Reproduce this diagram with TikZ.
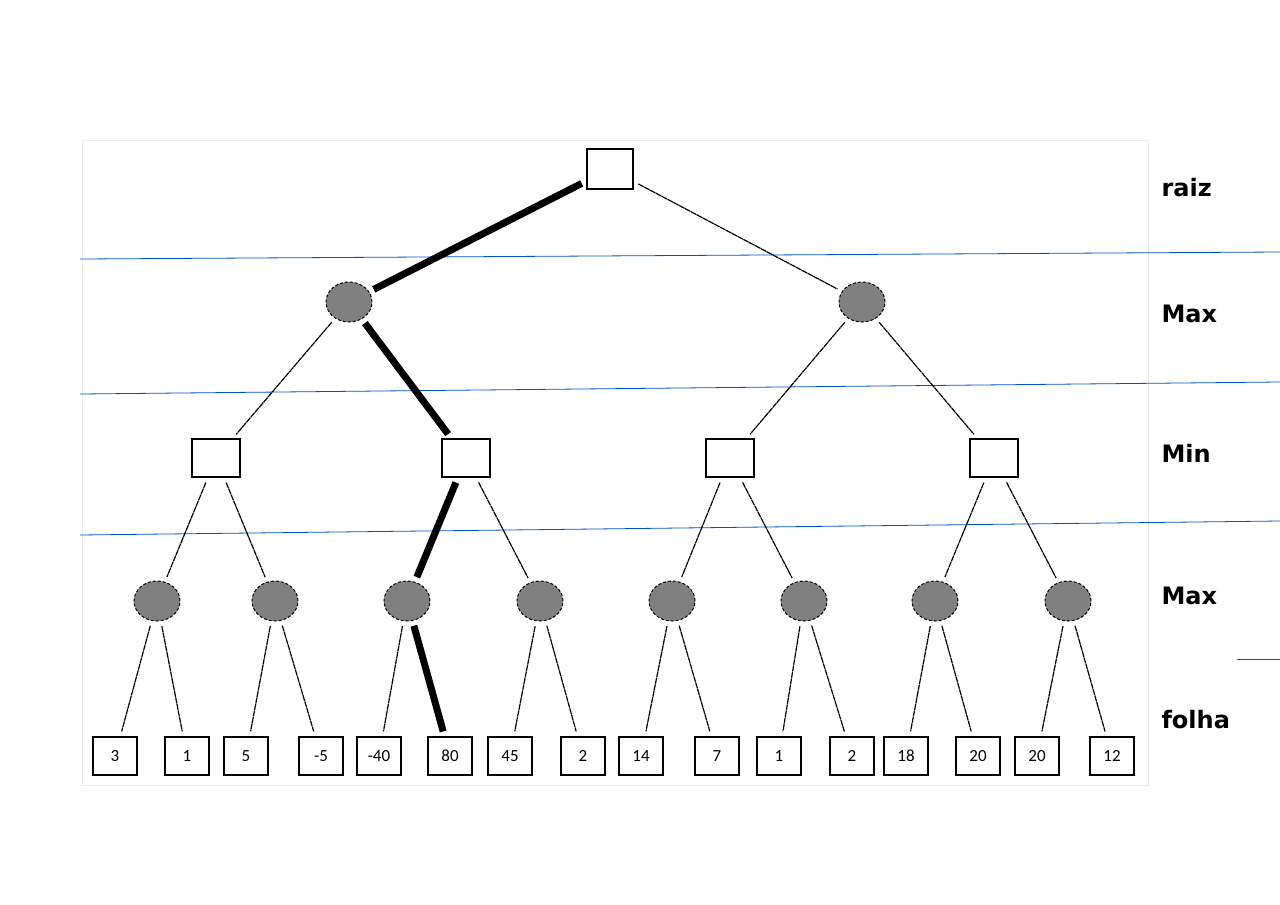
\documentclass[tikz,border=0pt]{standalone}
\usepackage{fontspec}
\setmainfont{DejaVu Sans}
\newfontfamily\leaffont{Carlito}
\usetikzlibrary{shapes.geometric}
\begin{document}
\begin{tikzpicture}[x=1pt,y=-1pt,
  sq/.style={draw,line width=1.8pt,minimum width=46pt,minimum height=40pt,inner sep=0pt,fill=white},
  cir/.style={draw,densely dashed,line width=1pt,ellipse,minimum width=46pt,minimum height=40pt,inner sep=0pt,fill=black!50},
  leaf/.style={draw,line width=1.5pt,minimum width=44pt,minimum height=38pt,inner sep=0pt,font=\leaffont\fontsize{17}{17}\selectfont},
  edge/.style={line width=1.2pt,dash pattern=on 6pt off 0.6pt,shorten <=5pt,shorten >=5pt},
  best/.style={line width=7pt,shorten <=5pt,shorten >=5pt},
  lvl/.style={anchor=west,font=\bfseries\fontsize{24}{24}\selectfont},
  bluel/.style={draw=blue!60!cyan!80!black,line width=0.8pt}]
\useasboundingbox (0,0) rectangle (1280,905);
\draw[black!8,line width=0.8pt] (82,140) rectangle (1148,785);
\draw[bluel] (80,259) -- (1280,252);
\draw[bluel] (80,394) -- (1280,382);
\draw[bluel] (80,535) -- (1280,521);
\draw[bluel] (1237,659) -- (1280,659);
\node[sq] (r) at (610,169) {};
\node[cir] (a1) at (349,302) {};
\node[cir] (a2) at (862,302) {};
\foreach \x [count=\i] in {216,466,730,994} \node[sq,minimum width=48pt,minimum height=38pt] (b\i) at (\x,458) {};
\foreach \x [count=\i] in {157,275,407,540,672,804,935,1068} \node[cir] (c\i) at (\x,601) {};
\foreach \x/\t [count=\i] in {115/3,187/1,246/5,321/-5,379/-40,450/80,510/45,583/2,641/14,717/7,779/1,852/2,906/18,978/20,1037/20,1112/12}
  \node[leaf] (l\i) at (\x,756) {\t};
\draw[best] (r) -- (a1);
\draw[edge] (r) -- (a2);
\draw[edge] (a1) -- (b1);
\draw[best] (a1) -- (b2);
\draw[edge] (a2) -- (b3);
\draw[edge] (a2) -- (b4);
\draw[edge] (b1) -- (c1); \draw[edge] (b1) -- (c2);
\draw[best] (b2) -- (c3); \draw[edge] (b2) -- (c4);
\draw[edge] (b3) -- (c5); \draw[edge] (b3) -- (c6);
\draw[edge] (b4) -- (c7); \draw[edge] (b4) -- (c8);
\draw[edge] (c1) -- (l1); \draw[edge] (c1) -- (l2);
\draw[edge] (c2) -- (l3); \draw[edge] (c2) -- (l4);
\draw[edge] (c3) -- (l5); \draw[best] (c3) -- (l6);
\draw[edge] (c4) -- (l7); \draw[edge] (c4) -- (l8);
\draw[edge] (c5) -- (l9); \draw[edge] (c5) -- (l10);
\draw[edge] (c6) -- (l11); \draw[edge] (c6) -- (l12);
\draw[edge] (c7) -- (l13); \draw[edge] (c7) -- (l14);
\draw[edge] (c8) -- (l15); \draw[edge] (c8) -- (l16);
\node[lvl] (t1) at (1158,188) {raiz};
\node[lvl] (t2) at (1158,314) {Max};
\node[lvl] (t3) at (1158,453) {Min};
\node[lvl] (t4) at (1158,596) {Max};
\node[lvl] (t5) at (1158,720) {folha};
\end{tikzpicture}
\end{document}
